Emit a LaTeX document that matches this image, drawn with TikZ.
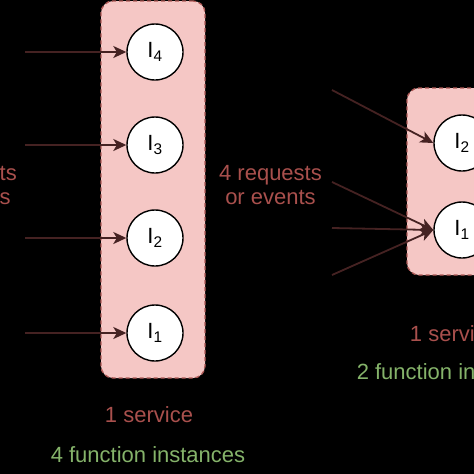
\documentclass[tikz,border=0pt]{standalone}
\usepackage{fontspec}
\setmainfont{Liberation Sans}
\usetikzlibrary{arrows.meta}
\definecolor{svcfill}{HTML}{F5C7C5}
\definecolor{svcline}{HTML}{B05A57}
\definecolor{reqtext}{HTML}{A9504D}
\definecolor{fntext}{HTML}{85B36A}
\definecolor{arrowc}{HTML}{452222}

\begin{document}
\begin{tikzpicture}[x=1pt,y=-1pt,>={Stealth[length=13pt,width=12pt,inset=3.5pt]},
  font=\fontsize{22}{24}\selectfont,
  svc/.style={draw=svcline,fill=svcfill,line width=1.3pt,dash pattern=on 4pt off 3pt,
    rounded corners=12pt,minimum width=104pt,inner sep=0pt},
  inst/.style={circle,draw=black,fill=white,line width=1.4pt,minimum size=56pt,inner sep=0pt},
  req/.style={->,draw=arrowc,line width=1.8pt},
  reqlabel/.style={text=reqtext,align=center},
  fnlabel/.style={text=fntext}]
  \path[use as bounding box,fill=black] (0,0) rectangle (474,474);
  \clip (0,0) rectangle (474,474);

  % one service, four instances
  \node[svc,minimum height=377pt] (svcA) at (153,189.5) {};
  \node[inst] (a4) at (155,52) {I\textsubscript{4}};
  \node[inst] (a3) at (155,145) {I\textsubscript{3}};
  \node[inst] (a2) at (155,238) {I\textsubscript{2}};
  \node[inst] (a1) at (155,333) {I\textsubscript{1}};
  \coordinate (ta4) at (25,52);
  \coordinate (ta3) at (25,145);
  \coordinate (ta2) at (25,238);
  \coordinate (ta1) at (25,333);
  \draw[req] (ta4) -- (a4);
  \draw[req] (ta3) -- (a3);
  \draw[req] (ta2) -- (a2);
  \draw[req] (ta1) -- (a1);
  \node[reqlabel] (reqA) at (-34.5,185) {4 requests\\or events};
  \node[text=reqtext] (nameA) at (149,415) {1 service};
  \node[fnlabel] (countA) at (148,455) {4 function instances};

  % one service, two instances
  \node[svc,minimum height=187pt] (svcB) at (459,181.5) {};
  \node[inst] (b2) at (462,143) {I\textsubscript{2}};
  \node[inst] (b1) at (462,230) {I\textsubscript{1}};
  \coordinate (tb4) at (332,90);
  \coordinate (tb3) at (332,182);
  \coordinate (tb2) at (332,228);
  \coordinate (tb1) at (332,275);
  \draw[req] (tb4) -- (b2.west);
  \draw[req] (tb3) -- (b1.west);
  \draw[req] (tb2) -- (b1.west);
  \draw[req] (tb1) -- (b1.west);
  \node[reqlabel] (reqB) at (270.5,185) {4 requests\\or events};
  \node[text=reqtext] (nameB) at (454,334) {1 service};
  \node[fnlabel] (countB) at (454,372) {2 function instances};
\end{tikzpicture}
\end{document}
